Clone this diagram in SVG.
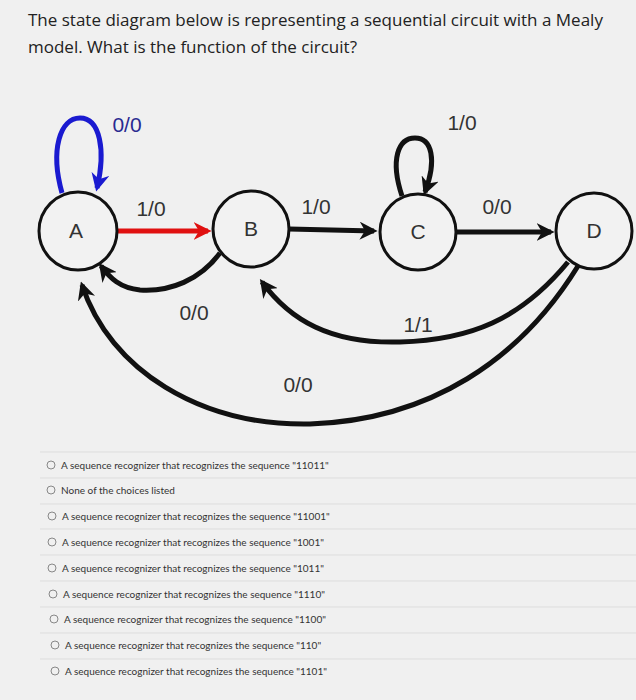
<svg xmlns="http://www.w3.org/2000/svg" width="636" height="700" viewBox="0 0 636 700">
<style>
.q{font-family:"Open Sans","Liberation Sans",sans-serif;font-size:17px;fill:#222}
.n{fill:#f2f2f2;stroke:#111;stroke-width:3}
.nt{font-family:"Liberation Sans",sans-serif;font-size:21px;fill:#333;text-anchor:middle}
.l{font-family:"Liberation Sans",sans-serif;font-size:21px;fill:#333;text-anchor:middle}
.e{fill:none;stroke:#111;stroke-width:5}
.o{font-family:Lato,"Liberation Sans",sans-serif;font-size:10px;fill:#333}
.r{fill:none;stroke:#888;stroke-width:1}
.s{stroke:#ddd;stroke-width:1}
</style>
<defs>
<marker id="ak" viewBox="0 0 10 10" refX="8" refY="5" markerWidth="3.6" markerHeight="3.6" orient="auto" markerUnits="strokeWidth"><path d="M0,0 L10,5 L0,10 L3,5 z" fill="#111"/></marker>
<marker id="ar" viewBox="0 0 10 10" refX="8" refY="5" markerWidth="3.6" markerHeight="3.6" orient="auto" markerUnits="strokeWidth"><path d="M0,0 L10,5 L0,10 L3,5 z" fill="#e01010"/></marker>
<marker id="ab" viewBox="0 0 10 10" refX="8" refY="5" markerWidth="3.6" markerHeight="3.6" orient="auto" markerUnits="strokeWidth"><path d="M0,0 L10,5 L0,10 L3,5 z" fill="#1a1ad0"/></marker>
</defs>
<rect width="636" height="700" fill="#f0f0f0"/>
<text class="q" x="28" y="26">The state diagram below is representing a sequential circuit with a Mealy</text>
<text class="q" x="28" y="53">model. What is the function of the circuit?</text>
<g id="connectors">
<path class="e" d="M62,193 C50,150 60,118 80,118 C100,118 106,150 97,188" style="stroke:#1a1ad0" marker-end="url(#ab)"/>
<path class="e" d="M118,231 L208,231" style="stroke:#e01010" marker-end="url(#ar)"/>
<path class="e" d="M289,229 L374,231" marker-end="url(#ak)"/>
<path class="e" d="M402,196 C390,160 398,138 415,138 C432,138 437,160 425,192" marker-end="url(#ak)"/>
<path class="e" d="M456,232 L551,232" marker-end="url(#ak)"/>
<path class="e" d="M220,253 C200,280 170,292 140,290 C120,288 110,278 101,266" marker-end="url(#ak)"/>
<path class="e" d="M568,262 C520,320 470,340 400,342 C330,344 290,320 262,282" marker-end="url(#ak)"/>
<path class="e" d="M578,266 C520,360 430,420 310,424 C200,426 110,370 82,285" marker-end="url(#ak)"/>
</g>
<g id="labels">
<text class="l" x="127" y="132" style="fill:#2a2a90">0/0</text>
<text class="l" x="151" y="216">1/0</text>
<text class="l" x="316" y="214">1/0</text>
<text class="l" x="462" y="130">1/0</text>
<text class="l" x="497" y="214">0/0</text>
<text class="l" x="194" y="320">0/0</text>
<text class="l" x="418" y="332">1/1</text>
<text class="l" x="298" y="392">0/0</text>
</g>
<g id="A"><circle class="n" cx="78" cy="231" r="39"/><text class="nt" x="76" y="238">A</text></g>
<g id="B"><circle class="n" cx="251" cy="229" r="38"/><text class="nt" x="251" y="236">B</text></g>
<g id="C"><circle class="n" cx="418" cy="232" r="38"/><text class="nt" x="418" y="239">C</text></g>
<g id="D"><circle class="n" cx="594" cy="231" r="38"/><text class="nt" x="594" y="238">D</text></g>
<g id="options">
<line class="s" x1="40" y1="452" x2="636" y2="452"/>
<line class="s" x1="40" y1="478" x2="636" y2="478"/>
<line class="s" x1="40" y1="504" x2="636" y2="504"/>
<line class="s" x1="40" y1="529" x2="636" y2="529"/>
<line class="s" x1="40" y1="555" x2="636" y2="555"/>
<line class="s" x1="40" y1="581" x2="636" y2="581"/>
<line class="s" x1="40" y1="607" x2="636" y2="607"/>
<line class="s" x1="40" y1="633" x2="636" y2="633"/>
<line class="s" x1="40" y1="659" x2="636" y2="659"/>
<circle class="r" cx="51" cy="465" r="4"/><text class="o" x="61" y="469">A sequence recognizer that recognizes the sequence "11011"</text>
<circle class="r" cx="51" cy="490" r="4"/><text class="o" x="61" y="494">None of the choices listed</text>
<circle class="r" cx="52" cy="516" r="4"/><text class="o" x="62" y="520">A sequence recognizer that recognizes the sequence "11001"</text>
<circle class="r" cx="52" cy="542" r="4"/><text class="o" x="62" y="546">A sequence recognizer that recognizes the sequence "1001"</text>
<circle class="r" cx="52" cy="568" r="4"/><text class="o" x="62" y="572">A sequence recognizer that recognizes the sequence "1011"</text>
<circle class="r" cx="53" cy="594" r="4"/><text class="o" x="63" y="598">A sequence recognizer that recognizes the sequence "1110"</text>
<circle class="r" cx="54" cy="619" r="4"/><text class="o" x="64" y="623">A sequence recognizer that recognizes the sequence "1100"</text>
<circle class="r" cx="55" cy="645" r="4"/><text class="o" x="65" y="649">A sequence recognizer that recognizes the sequence "110"</text>
<circle class="r" cx="55" cy="671" r="4"/><text class="o" x="65" y="675">A sequence recognizer that recognizes the sequence "1101"</text>
</g>
</svg>
